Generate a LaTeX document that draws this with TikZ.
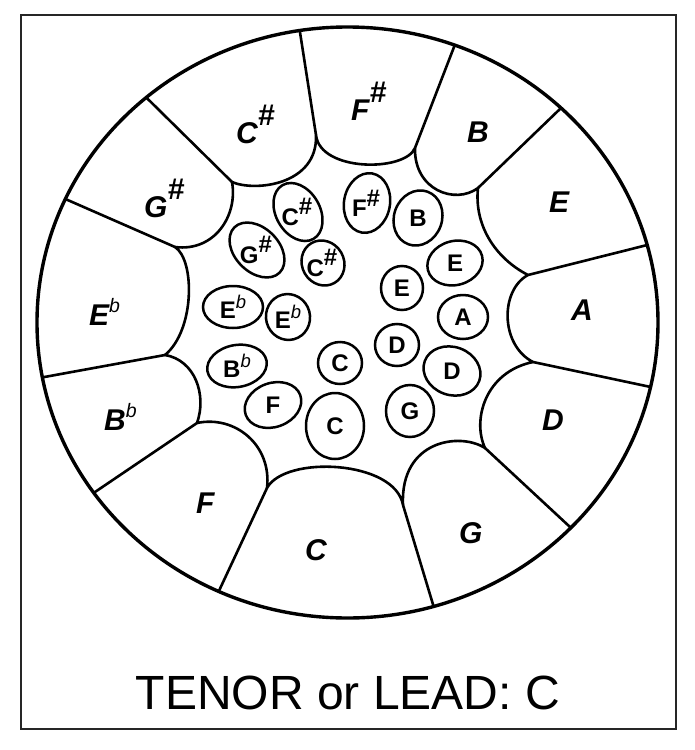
\documentclass[tikz,border=0pt]{standalone}
\usepackage{fontspec}
\setmainfont{Liberation Sans}
\usetikzlibrary{calc}
\newcommand{\osh}{\raisebox{0.6em}{\#}}
\newcommand{\ofl}{\raisebox{0.42em}{\scalebox{0.65}{\mdseries b}}}
\newcommand{\ish}{\raisebox{0.43em}{\#}}
\newcommand{\ifl}{\raisebox{0.43em}{\scalebox{0.77}{\mdseries\itshape b}}}
\begin{document}
\begin{tikzpicture}[x=1pt,y=-1pt,
  ln/.style={line width=2.6pt, line join=round},
  oval/.style={line width=2.5pt},
  outlab/.style={font=\fontsize{30}{36}\selectfont\bfseries\itshape, inner sep=0pt, anchor=base west},
  inlab/.style={font=\fontsize{24}{28}\selectfont\bfseries, inner sep=0pt}]
\useasboundingbox (0,0) rectangle (694,750);
\fill[white] (0,0) rectangle (694,750);
% frame
\draw[line width=2.8pt, black!85] (21,15) rectangle (676,729);
% drum outline
\coordinate (O) at (347.5,322.5);
\draw[line width=3.4pt] (O) ellipse [x radius=310.5, y radius=295.5];
% rim points of the dividing lines
\coordinate (P1) at ($(O)+(-98.85:310.5 and 295.5)$);
\coordinate (P2) at ($(O)+(-69.8:310.5 and 295.5)$);
\coordinate (P3) at ($(O)+(-46.55:310.5 and 295.5)$);
\coordinate (P4) at ($(O)+(-15.2:310.5 and 295.5)$);
\coordinate (P5) at ($(O)+(12.6:310.5 and 295.5)$);
\coordinate (P6) at ($(O)+(44.0:310.5 and 295.5)$);
\coordinate (P7) at ($(O)+(73.9:310.5 and 295.5)$);
\coordinate (P8) at ($(O)+(114.5:310.5 and 295.5)$);
\coordinate (P9) at ($(O)+(144.8:310.5 and 295.5)$);
\coordinate (P10) at ($(O)+(169.3:310.5 and 295.5)$);
\coordinate (P11) at ($(O)+(204.7:310.5 and 295.5)$);
\coordinate (P12) at ($(O)+(229.6:310.5 and 295.5)$);
% inner junctions
\coordinate (J1) at (316,135);
\coordinate (J2) at (415,148);
\coordinate (J3) at (478,188);
\coordinate (J4) at (528,275);
\coordinate (J5) at (533,362);
\coordinate (J6) at (485,448);
\coordinate (J7) at (403,505);
\coordinate (J8) at (267,488);
\coordinate (J9) at (197,423);
\coordinate (J10) at (165,355);
\coordinate (J11) at (175,247);
\coordinate (J12) at (232,182);
\foreach \i in {1,...,12} {\draw[ln] (P\i) -- (J\i);}
% petal ends
\draw[ln] (J12) .. controls (255,192) and (318,185) .. (J1)
  .. controls (320,172) and (405,172) .. (J2)
  .. controls (414,190) and (455,205) .. (J3)
  .. controls (474,225) and (495,258) .. (J4)
  .. controls (500,290) and (500,345) .. (J5)
  .. controls (485,372) and (472,420) .. (J6)
  .. controls (460,432) and (400,440) .. (J7)
  .. controls (395,460) and (285,455) .. (J8)
  .. controls (272,445) and (235,415) .. (J9)
  .. controls (207,395) and (195,360) .. (J10)
  .. controls (195,330) and (195,260) .. (J11)
  .. controls (215,252) and (238,215) .. (J12) -- cycle;
% outer labels
\node[outlab] (oCs) at (236,143) {C\osh};
\node[outlab] (oFs) at (351,120) {F\osh};
\node[outlab] (oB) at (467,142) {B};
\node[outlab] (oE) at (549,212) {E};
\node[outlab] (oA) at (571,320) {A};
\node[outlab] (oD) at (542,430) {D};
\node[outlab] (oG) at (459,543) {G};
\node[outlab] (oC) at (305,560) {C};
\node[outlab] (oF) at (196,513) {F};
\node[outlab] (oBb) at (104,430) {B\ofl};
\node[outlab] (oEb) at (89,325) {E\ofl};
\node[outlab] (oGs) at (144,217) {G\osh};
% inner notes
\draw[oval, rotate around={-10:(367,203)}] (367,203) ellipse [x radius=23, y radius=30];
\node[inlab] (iFs) at (366,203) {F\ish};
\draw[oval, rotate around={-20:(418,218)}] (418,218) ellipse [x radius=24, y radius=28];
\node[inlab] (iB) at (418,218) {B};
\draw[oval, rotate around={30:(298,212)}] (298,212) ellipse [x radius=22, y radius=31];
\node[inlab] (iCs1) at (297,212) {C\ish};
\draw[oval, rotate around={45:(257,250)}] (257,250) ellipse [x radius=22, y radius=32];
\node[inlab] (iGs) at (256,250) {G\ish};
\draw[oval, rotate around={30:(323,263)}] (323,263) ellipse [x radius=21, y radius=23];
\node[inlab] (iCs2) at (322,263) {C\ish};
\draw[oval] (402,288) ellipse [x radius=21, y radius=22];
\node[inlab] (iE1) at (402,288) {E};
\draw[oval, rotate around={15:(455,263)}] (455,263) ellipse [x radius=28, y radius=22];
\node[inlab] (iE2) at (455,263) {E};
\draw[oval] (463,317) ellipse [x radius=25, y radius=22];
\node[inlab] (iA) at (463,317) {A};
\draw[oval, rotate around={-20:(452,371)}] (452,371) ellipse [x radius=29, y radius=24];
\node[inlab] (iD2) at (452,371) {D};
\draw[oval] (397,345) ellipse [x radius=22, y radius=21];
\node[inlab] (iD1) at (397,345) {D};
\draw[oval] (410,411) ellipse [x radius=24, y radius=26];
\node[inlab] (iG) at (410,411) {G};
\draw[oval] (340,363) ellipse [x radius=22, y radius=21];
\node[inlab] (iC1) at (340,363) {C};
\draw[oval] (335,426) ellipse [x radius=29, y radius=33];
\node[inlab] (iC2) at (335,426) {C};
\draw[oval, rotate around={20:(273,405)}] (273,405) ellipse [x radius=29, y radius=22];
\node[inlab] (iF) at (273,405) {F};
\draw[oval, rotate around={10:(237,366)}] (237,366) ellipse [x radius=30, y radius=21];
\node[inlab] (iBb) at (237,366) {B\ifl};
\draw[oval] (233,307) ellipse [x radius=30, y radius=21];
\node[inlab] (iEb1) at (233,307) {E\ifl};
\draw[oval, rotate around={15:(288,317)}] (288,317) ellipse [x radius=22, y radius=23];
\node[inlab] (iEb2) at (288,317) {E\ifl};
% title
\node[font=\fontsize{48}{56}\selectfont, inner sep=0pt] (title) at (348,693) {TENOR or LEAD: C};
\end{tikzpicture}
\end{document}
